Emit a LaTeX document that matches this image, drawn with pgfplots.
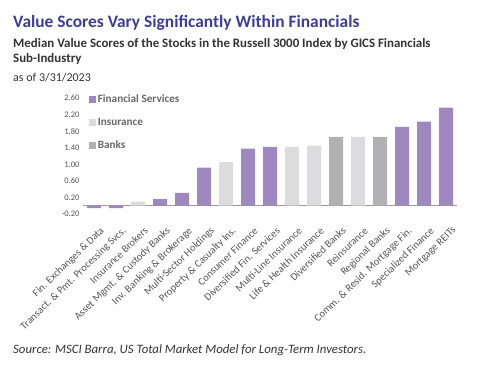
\documentclass[border=0pt]{standalone}
\usepackage{fontspec}
\setmainfont{Carlito}
\usepackage{pgfplots}
\pgfplotsset{compat=1.18}
\definecolor{fin}{HTML}{9E88BF}
\definecolor{ins}{HTML}{DCDCDE}
\definecolor{bank}{HTML}{B1B1B4}
\definecolor{titlec}{HTML}{3D3D99}
\definecolor{txt}{HTML}{333333}
\definecolor{lab}{HTML}{555555}
\begin{document}
\begin{tikzpicture}
\path[use as bounding box] (0pt,0pt) rectangle (479pt,369pt);
\node[anchor=base west, inner sep=0, font=\fontsize{17.4}{20}\selectfont\bfseries, text=titlec] at (13pt,341.7pt) {Value Scores Vary Significantly Within Financials};
\node[anchor=base west, inner sep=0, font=\fontsize{12.9}{15}\selectfont\bfseries, text=txt] at (13pt,321.3pt) {Median Value Scores of the Stocks in the Russell 3000 Index by GICS Financials};
\node[anchor=base west, inner sep=0, font=\fontsize{12.9}{15}\selectfont\bfseries, text=txt] at (13pt,306.3pt) {Sub-Industry};
\node[anchor=base west, inner sep=0, font=\fontsize{12}{14}\selectfont, text=txt] at (13pt,287.3pt) {as of 3/31/2023};
\node[anchor=base west, inner sep=0, font=\fontsize{12.8}{14}\selectfont\itshape, text=txt] at (13pt,15pt) {Source: MSCI Barra, US Total Market Model for Long-Term Investors.};
\begin{axis}[
  at={(83pt,155pt)}, anchor=south west,
  scale only axis, width=374pt, height=116pt,
  xmin=-0.5, xmax=16.5, ymin=-0.2, ymax=2.6,
  axis line style={draw=none},
  ytick={-0.2,0.2,0.6,1.0,1.4,1.8,2.2,2.6},
  yticklabel style={/pgf/number format/fixed, /pgf/number format/fixed zerofill, /pgf/number format/precision=2, font=\fontsize{8.5}{10}\selectfont, text=lab},
  /pgf/number format/assume math mode=true,
  major tick length=0pt,
  xtick={0.25,1.25,2.25,3.25,4.25,5.25,6.25,7.25,8.25,9.25,10.25,11.25,12.25,13.25,14.25,15.25,16.25},
  xticklabels={Fin. Exchanges \& Data, Transact. \& Pmt. Processing Svcs., Insurance Brokers, Asset Mgmt. \& Custody Banks, Inv. Banking \& Brokerage, Multi-Sector Holdings, Property \& Casualty Ins., Consumer Finance, Diversified Fin. Services, Multi-Line Insurance, Life \& Health Insurance, Diversified Banks, Reinsurance, Regional Banks, Comm. \& Resid. Mortgage Fin., Specialized Finance, Mortgage REITs},
  xticklabel shift=12pt,
  xticklabel style={rotate=44, anchor=north east, font=\fontsize{10.5}{11}\selectfont, text=lab, inner sep=0pt},
  ybar, bar width=14pt, bar shift=0pt,
  extra y ticks={0}, extra y tick labels={},
  extra y tick style={grid=major, major grid style={draw=gray!80, line width=0.8pt}},
  legend style={at={(0.015,1.045)}, anchor=north west, draw=none, fill=none, row sep=10pt, font=\fontsize{11.2}{12}\selectfont\bfseries, text=black!60, inner sep=0pt},
  legend cell align=left,
  legend image code/.code={\fill[#1] (0pt,-3pt) rectangle (7pt,4pt);},
]
\addplot[fill=fin, draw=none] coordinates {(0,-0.06) (1,-0.06) (3,0.16) (4,0.31) (5,0.92) (7,1.38) (8,1.42) (14,1.90) (15,2.03) (16,2.37)};
\addlegendentry{Financial Services}
\addplot[fill=ins, draw=none] coordinates {(2,0.10) (6,1.05) (9,1.42) (10,1.45) (12,1.66)};
\addlegendentry{Insurance}
\addplot[fill=bank, draw=none] coordinates {(11,1.66) (13,1.66)};
\addlegendentry{Banks}
\end{axis}
\end{tikzpicture}
\end{document}
